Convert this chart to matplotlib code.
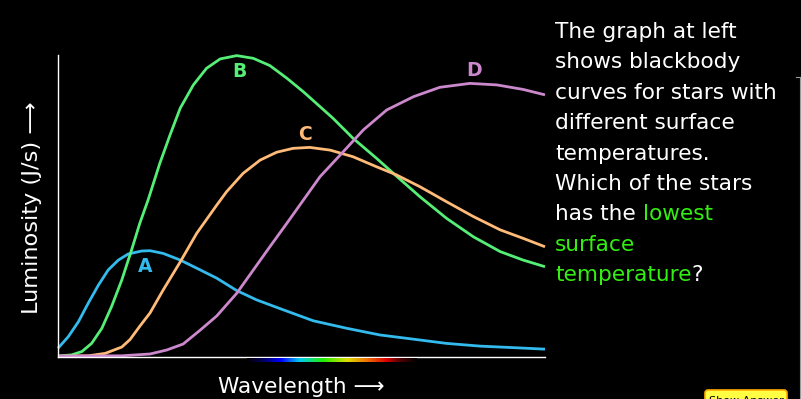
import matplotlib
matplotlib.use("Agg")
import matplotlib.pyplot as plt
import numpy as np
from matplotlib.transforms import Affine2D
from matplotlib.colors import LinearSegmentedColormap
from matplotlib.patches import FancyBboxPatch
from matplotlib.lines import Line2D

# ---- data (wavelength 0-100, luminosity 0-100, arbitrary units) ----
a_x = [0, 2.1, 4.2, 6.2, 8.3, 10.3, 12.4, 14.4, 17.2, 18.9, 21.6, 25.1, 28.5, 32.6, 36.7, 40.8,
       46.3, 52.4, 59.3, 66.1, 73.0, 79.8, 86.7, 93.5, 100]
a_y = [2.9, 6.7, 11.7, 17.8, 23.8, 28.8, 32.1, 34.1, 35.1, 35.2, 34.3, 32.1, 29.4, 26.1, 22.0, 18.9,
       15.6, 12.0, 9.5, 7.3, 5.9, 4.5, 3.6, 3.1, 2.6]

b_x = [0, 2.8, 4.9, 6.9, 9.0, 11.0, 13.1, 15.1, 16.8, 18.5, 20.9, 23.0, 25.1, 27.8, 30.5, 33.3,
       36.7, 40.1, 43.5, 47.0, 50.4, 53.8, 56.5, 60.6, 65.4, 69.5, 74.3, 79.8, 85.3, 90.8, 95.5, 100]
b_y = [0.3, 0.7, 1.8, 4.5, 9.5, 16.7, 25.5, 35.4, 44.3, 52.0, 64.1, 73.5, 82.4, 90.1, 95.6, 98.7,
       99.8, 98.9, 96.5, 92.3, 87.8, 82.9, 79.0, 72.4, 65.8, 59.9, 53.1, 45.9, 39.8, 34.9, 32.1, 29.9]

c_x = [0, 6.2, 9.7, 13.1, 14.8, 16.8, 18.9, 21.6, 25.1, 28.5, 32.6, 34.6, 38.0, 41.5, 44.9, 48.3,
       51.7, 55.9, 60.6, 65.4, 69.5, 74.3, 79.8, 85.3, 90.8, 95.5, 100]
c_y = [0.3, 0.4, 1.2, 3.3, 5.8, 10.2, 14.6, 22.2, 31.5, 41.0, 50.3, 54.7, 60.8, 65.2, 67.8, 69.1,
       69.4, 68.5, 66.3, 63.0, 60.3, 56.4, 51.4, 46.5, 42.1, 39.3, 36.5]

d_x = [0, 13.1, 18.9, 22.3, 25.7, 29.2, 32.6, 36.7, 40.1, 43.5, 47.0, 50.4, 53.8, 58.3, 62.7,
       67.5, 73.0, 78.4, 84.6, 90.1, 95.5, 100]
d_y = [0.3, 0.4, 1.0, 2.3, 4.3, 8.9, 13.6, 21.1, 28.8, 36.5, 44.3, 52.0, 59.7, 67.5, 75.2,
       81.8, 86.2, 89.3, 90.6, 90.1, 88.6, 86.8]

star_names = ["A", "B", "C", "D"]
star_colors = ["#33bbee", "#55ee77", "#ffbb77", "#cc88cc"]

question_lines = ["The graph at left", "shows blackbody", "curves for stars with",
                  "different surface", "temperatures.", "Which of the stars"]

W, H = 801, 399
fig = plt.figure(figsize=(W / 100, H / 100), dpi=100, facecolor="black")
px = Affine2D().scale(1 / W, -1 / H).translate(0, 1) + fig.transFigure

# plot area: x 58..545 px, y 55..357 px
ax = fig.add_axes([58 / W, (H - 357) / H, (545 - 58) / W, (357 - 55) / H])
ax.set_facecolor("black")
ax.set_xlim(0, 100)
ax.set_ylim(0, 100)
for s in ["top", "right"]:
    ax.spines[s].set_visible(False)
for s in ["left", "bottom"]:
    ax.spines[s].set_color("white")
    ax.spines[s].set_linewidth(1.0)
ax.set_xticks([])
ax.set_yticks([])

series = [(a_x, a_y), (b_x, b_y), (c_x, c_y), (d_x, d_y)]
for (xs, ys), col in zip(series, star_colors):
    ax.plot(xs, ys, color=col, lw=2.0, clip_on=False,
            solid_joinstyle="round", solid_capstyle="butt")

# curve labels (data coords)
label_pos = [(17.9, 30.1), (37.3, 94.7), (50.7, 73.7), (85.4, 94.9)]
for name, col, (lx, ly) in zip(star_names, star_colors, label_pos):
    ax.text(lx, ly, name, color=col, fontsize=13.5, fontweight="bold",
            ha="center", va="center", family="DejaVu Sans")

# rainbow strip under the axis
rax = fig.add_axes([247 / W, (H - 362) / H, 170 / W, 4 / H])
rainbow = LinearSegmentedColormap.from_list("spec", [
    (0.0, "#000000"), (0.1, "#000066"), (0.2, "#0000ff"), (0.31, "#00ccee"),
    (0.45, "#22ee00"), (0.59, "#dddd00"), (0.7, "#ee7700"), (0.82, "#dd0000"),
    (0.9, "#550000"), (1.0, "#000000")])
rax.imshow(np.linspace(0, 1, 256)[None, :], aspect="auto", cmap=rainbow)
rax.set_axis_off()

# axis titles
fig.text(32, 208, "Luminosity (J/s) \u27f6", transform=px, rotation=90,
         color="white", fontsize=16.2, ha="center", va="center", family="DejaVu Sans")
fig.text(218, 393, "Wavelength \u27f6", transform=px, color="white",
         fontsize=15.6, ha="left", va="baseline", family="DejaVu Sans")

# question text
fs = 15.6
y0, dy = 38, 30.4
for i, line in enumerate(question_lines):
    fig.text(555, y0 + i * dy, line, transform=px, color="white", fontsize=fs,
             ha="left", va="baseline", family="DejaVu Sans")
green = "#33ee11"
t1 = fig.text(555, y0 + 6 * dy, "has the ", transform=px, color="white",
              fontsize=fs, ha="left", va="baseline", family="DejaVu Sans")
fig.canvas.draw()
r = fig.canvas.get_renderer()
w_has = t1.get_window_extent(r).width
fig.text(555 + w_has, y0 + 6 * dy, "lowest", transform=px, color=green,
         fontsize=fs, ha="left", va="baseline", family="DejaVu Sans")
fig.text(555, y0 + 7 * dy, "surface", transform=px, color=green,
         fontsize=fs, ha="left", va="baseline", family="DejaVu Sans")
t3 = fig.text(555, y0 + 8 * dy, "temperature", transform=px, color=green,
              fontsize=fs, ha="left", va="baseline", family="DejaVu Sans")
fig.canvas.draw()
w_t = t3.get_window_extent(r).width
fig.text(555 + w_t, y0 + 8 * dy, "?", transform=px, color="white",
         fontsize=fs, ha="left", va="baseline", family="DejaVu Sans")

# button (cut off at bottom)
btn = FancyBboxPatch((705, 390), 82, 20, boxstyle="round,pad=0,rounding_size=3",
                     transform=px, facecolor="#ffff44", edgecolor="#ffaa00", lw=1.2)
fig.patches.append(btn)
fig.text(746, 396, "Show Answer", transform=px, color="black", fontsize=8,
         ha="center", va="top", family="DejaVu Sans")

# thin frame line on the right edge
fig.lines.append(Line2D([799.5, 799.5], [77, 399], transform=px, color="#999999", lw=0.8))
fig.lines.append(Line2D([796, 801], [77, 77], transform=px, color="#999999", lw=0.8))

fig.savefig("out.png", dpi=100, facecolor="black")
